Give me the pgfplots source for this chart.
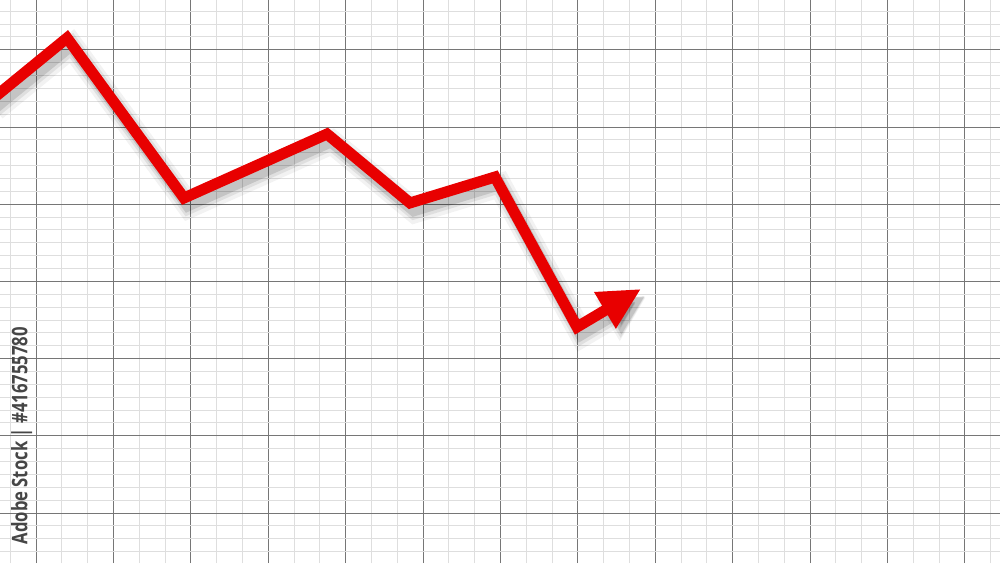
\documentclass[border=0pt]{standalone}
\usepackage{pgfplots}
\pgfplotsset{compat=1.18}
\usetikzlibrary{arrows.meta}
\usepackage{fontspec}
\setmainfont{Open Sans}
\definecolor{trendred}{RGB}{232,0,0}
\definecolor{majorgrid}{RGB}{118,118,118}
\definecolor{minorgrid}{RGB}{222,222,222}
\definecolor{markgray}{RGB}{70,70,70}

\pgfplotstableread{
x y
-0.594 5.337
0.401 6.153
1.912 4.080
3.760 4.909
4.832 4.016
5.930 4.352
6.990 2.409
7.817 2.902
}\trend

\begin{document}
\begin{tikzpicture}
\begin{axis}[
  name=ax,
  scale only axis,
  width=400pt, height=225.2pt,
  xmin=-0.465, xmax=12.455,
  ymin=-0.648, ymax=6.645,
  xtick={-1,...,13}, ytick={-1,...,7},
  minor x tick num=2, minor y tick num=5,
  xticklabels={}, yticklabels={},
  major tick length=0pt, minor tick length=0pt,
  grid=both,
  major grid style={majorgrid, line width=0.35pt},
  minor grid style={minorgrid, line width=0.35pt},
  axis line style={draw=none},
  clip=true,
]
% soft shadow, several passes
\addplot[black, opacity=0.05, line width=9.5pt, line join=miter, xshift=2.0pt, yshift=-3.3pt,
  -{Triangle[length=18pt, width=18pt]}] table {\trend};
\addplot[black, opacity=0.08, line width=7pt, line join=miter, xshift=1.8pt, yshift=-3.0pt,
  -{Triangle[length=17pt, width=17pt]}] table {\trend};
\addplot[black, opacity=0.12, line width=5pt, line join=miter, xshift=1.6pt, yshift=-2.8pt,
  -{Triangle[length=16pt, width=15.6pt]}] table {\trend};
% trend line
\addplot[trendred, line width=4.4pt, line join=miter,
  -{Triangle[length=16.8pt, width=15.8pt]}] table {\trend};

\node[rotate=90, text=markgray, inner sep=0pt] at (axis cs:-0.185,1.0)
  {\resizebox{86.8pt}{6.5pt}{\bfseries Adobe Stock | \#416755780}};
\end{axis}
\pgfresetboundingbox
\path (ax.south west) rectangle (ax.north east);
\end{tikzpicture}
\end{document}
